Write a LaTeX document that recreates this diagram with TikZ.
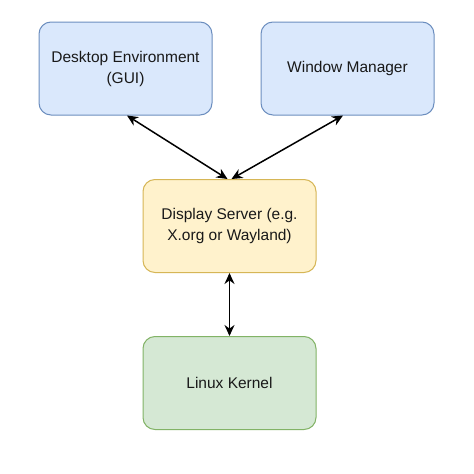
\documentclass[tikz,border=0pt]{standalone}
\usepackage{fontspec}
\setmainfont{Liberation Sans}
\usetikzlibrary{arrows.meta}
\definecolor{bluefill}{HTML}{DAE8FC}
\definecolor{bluedraw}{HTML}{6C8EBF}
\definecolor{yelfill}{HTML}{FFF2CC}
\definecolor{yeldraw}{HTML}{D6B656}
\definecolor{grnfill}{HTML}{D5E8D4}
\definecolor{grndraw}{HTML}{82B366}
\begin{document}
\begin{tikzpicture}[x=1pt,y=-1pt,
  box/.style={rounded corners=12pt, line width=1pt, minimum width=173pt, minimum height=93pt,
    align=center, inner sep=0pt, font=\fontsize{15.5}{21}\selectfont, text=black!90},
  bluebox/.style={box, fill=bluefill, draw=bluedraw},
  yelbox/.style={box, fill=yelfill, draw=yeldraw},
  grnbox/.style={box, fill=grnfill, draw=grndraw},
  conn/.style={line width=1.5pt, {Stealth[length=11pt,width=10pt]}-{Stealth[length=11pt,width=10pt]}}]
\useasboundingbox (0,0) rectangle (474,474);
\fill[white] (0,0) rectangle (474,474);
\node[bluebox] (de) at (125.5,68.5) {Desktop Environment\\(GUI)};
\node[bluebox] (wm) at (347.5,68.5) {Window Manager};
\node[yelbox] (ds) at (229.5,226) {Display Server (e.g.\\X.org or Wayland)};
\node[grnbox] (lk) at (229.5,383) {Linux Kernel};
\coordinate (dsl) at ([xshift=-2pt]ds.north);
\coordinate (dsr) at ([xshift=2pt]ds.north);
\coordinate (deb) at ([xshift=1.5pt]de.south);
\coordinate (wmb) at ([xshift=-4.5pt]wm.south);
\draw[conn] (deb) -- (dsl);
\draw[conn] (wmb) -- (dsr);
\draw[conn] (ds.south) -- (lk.north);
\end{tikzpicture}
\end{document}
